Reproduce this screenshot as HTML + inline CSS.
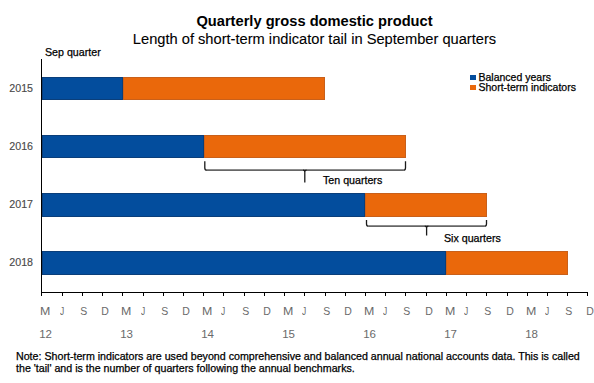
<!DOCTYPE html>
<html><head><meta charset="utf-8"><style>
html,body{margin:0;padding:0;background:#fff;}
body{width:594px;height:383px;position:relative;overflow:hidden;font-family:"Liberation Sans",sans-serif;color:#000;}
.t{position:absolute;white-space:nowrap;line-height:1;-webkit-text-stroke:0.25px #000;}
svg{position:absolute;left:0;top:0;}
.al,.yl{position:absolute;white-space:nowrap;font-size:10.5px;color:#6a6a6a;line-height:1;}
.al{top:306px;}
.yl{top:329px;font-size:11.5px;}
.yr{position:absolute;right:561px;font-size:10.67px;color:#4a4a4a;-webkit-text-stroke:0.15px #4a4a4a;line-height:1;}
.leg{position:absolute;left:478.5px;font-size:10.5px;line-height:1;white-space:nowrap;-webkit-text-stroke:0.25px #000;}
.sq{position:absolute;left:470px;width:6px;height:5px;}
</style></head><body>
<svg width="594" height="383" viewBox="0 0 594 383">
<rect x="42.5" y="77.5" width="80" height="22" fill="#034D9D" stroke="#0A3E7A" stroke-width="1"/>
<rect x="123.5" y="77.5" width="201" height="22" fill="#EA680B" stroke="#C9601A" stroke-width="1"/>
<rect x="42.5" y="135.5" width="161" height="22" fill="#034D9D" stroke="#0A3E7A" stroke-width="1"/>
<rect x="204.5" y="135.5" width="201" height="22" fill="#EA680B" stroke="#C9601A" stroke-width="1"/>
<rect x="42.5" y="193.5" width="322" height="23" fill="#034D9D" stroke="#0A3E7A" stroke-width="1"/>
<rect x="365.5" y="193.5" width="121" height="23" fill="#EA680B" stroke="#C9601A" stroke-width="1"/>
<rect x="42.5" y="251.5" width="403" height="23" fill="#034D9D" stroke="#0A3E7A" stroke-width="1"/>
<rect x="446.5" y="251.5" width="121" height="23" fill="#EA680B" stroke="#C9601A" stroke-width="1"/>
<line x1="41.5" y1="59" x2="41.5" y2="292.5" stroke="#000" stroke-width="1"/>
<line x1="41" y1="292.5" x2="588" y2="292.5" stroke="#000" stroke-width="1"/>
<line x1="41.5" y1="292" x2="41.5" y2="296" stroke="#000" stroke-width="1"/>
<line x1="62.5" y1="292" x2="62.5" y2="296" stroke="#000" stroke-width="1"/>
<line x1="82.5" y1="292" x2="82.5" y2="296" stroke="#000" stroke-width="1"/>
<line x1="102.5" y1="292" x2="102.5" y2="296" stroke="#000" stroke-width="1"/>
<line x1="122.5" y1="292" x2="122.5" y2="296" stroke="#000" stroke-width="1"/>
<line x1="143.5" y1="292" x2="143.5" y2="296" stroke="#000" stroke-width="1"/>
<line x1="163.5" y1="292" x2="163.5" y2="296" stroke="#000" stroke-width="1"/>
<line x1="183.5" y1="292" x2="183.5" y2="296" stroke="#000" stroke-width="1"/>
<line x1="203.5" y1="292" x2="203.5" y2="296" stroke="#000" stroke-width="1"/>
<line x1="223.5" y1="292" x2="223.5" y2="296" stroke="#000" stroke-width="1"/>
<line x1="244.5" y1="292" x2="244.5" y2="296" stroke="#000" stroke-width="1"/>
<line x1="264.5" y1="292" x2="264.5" y2="296" stroke="#000" stroke-width="1"/>
<line x1="284.5" y1="292" x2="284.5" y2="296" stroke="#000" stroke-width="1"/>
<line x1="304.5" y1="292" x2="304.5" y2="296" stroke="#000" stroke-width="1"/>
<line x1="325.5" y1="292" x2="325.5" y2="296" stroke="#000" stroke-width="1"/>
<line x1="345.5" y1="292" x2="345.5" y2="296" stroke="#000" stroke-width="1"/>
<line x1="365.5" y1="292" x2="365.5" y2="296" stroke="#000" stroke-width="1"/>
<line x1="385.5" y1="292" x2="385.5" y2="296" stroke="#000" stroke-width="1"/>
<line x1="405.5" y1="292" x2="405.5" y2="296" stroke="#000" stroke-width="1"/>
<line x1="426.5" y1="292" x2="426.5" y2="296" stroke="#000" stroke-width="1"/>
<line x1="446.5" y1="292" x2="446.5" y2="296" stroke="#000" stroke-width="1"/>
<line x1="466.5" y1="292" x2="466.5" y2="296" stroke="#000" stroke-width="1"/>
<line x1="486.5" y1="292" x2="486.5" y2="296" stroke="#000" stroke-width="1"/>
<line x1="507.5" y1="292" x2="507.5" y2="296" stroke="#000" stroke-width="1"/>
<line x1="527.5" y1="292" x2="527.5" y2="296" stroke="#000" stroke-width="1"/>
<line x1="547.5" y1="292" x2="547.5" y2="296" stroke="#000" stroke-width="1"/>
<line x1="567.5" y1="292" x2="567.5" y2="296" stroke="#000" stroke-width="1"/>
<line x1="587.5" y1="292" x2="587.5" y2="296" stroke="#000" stroke-width="1"/>
<line x1="207.0" y1="170.1" x2="403.3" y2="170.1" stroke="#666" stroke-width="1.6"/>
<path d="M204.8,161.3 L204.8,167.9 Q204.8,170.1 207.0,170.1" fill="none" stroke="#1a1a1a" stroke-width="1.3"/>
<path d="M405.5,161.3 L405.5,167.9 Q405.5,170.1 403.3,170.1" fill="none" stroke="#1a1a1a" stroke-width="1.3"/>
<path d="M303.0,170.1 Q304.8,170.1 304.8,171.9 L304.8,182.5 M304.8,171.9 Q304.8,170.1 306.6,170.1" fill="none" stroke="#1a1a1a" stroke-width="1.3"/>
<line x1="368.7" y1="226.1" x2="484.3" y2="226.1" stroke="#666" stroke-width="1.6"/>
<path d="M366.5,220 L366.5,223.9 Q366.5,226.1 368.7,226.1" fill="none" stroke="#1a1a1a" stroke-width="1.3"/>
<path d="M486.5,220 L486.5,223.9 Q486.5,226.1 484.3,226.1" fill="none" stroke="#1a1a1a" stroke-width="1.3"/>
<path d="M424.8,226.1 Q426.6,226.1 426.6,227.9 L426.6,235.6 M426.6,227.9 Q426.6,226.1 428.40000000000003,226.1" fill="none" stroke="#1a1a1a" stroke-width="1.3"/>
</svg>
<div class="t" style="left:0;width:629px;text-align:center;top:14px;font-size:14.67px;font-weight:bold;-webkit-text-stroke:0;">Quarterly gross domestic product</div>
<div class="t" style="left:0;width:629px;text-align:center;top:32px;font-size:14.67px;-webkit-text-stroke:0.1px #000;">Length of short-term indicator tail in September quarters</div>
<div class="t" style="left:45px;top:47px;font-size:10.67px;">Sep quarter</div>
<div class="yr" style="top:83px">2015</div>
<div class="yr" style="top:141px">2016</div>
<div class="yr" style="top:199px">2017</div>
<div class="yr" style="top:257px">2018</div>
<div class="sq" style="top:75px;background:#034D9D"></div>
<div class="sq" style="top:85px;background:#EA680B"></div>
<div class="leg" style="top:72px">Balanced years</div>
<div class="leg" style="top:82px">Short-term indicators</div>
<div class="t" style="left:323px;top:175px;font-size:10.67px;">Ten quarters</div>
<div class="t" style="left:444px;top:233px;font-size:10.67px;">Six quarters</div>
<div class="al" style="left:40.0px;transform:scaleX(1.18);transform-origin:0 0;">M</div><div class="al" style="left:60.4px;transform:scaleX(0.8);transform-origin:0 0;">J</div><div class="al" style="left:80.2px;">S</div><div class="al" style="left:101.2px;">D</div><div class="al" style="left:121.0px;transform:scaleX(1.18);transform-origin:0 0;">M</div><div class="al" style="left:141.4px;transform:scaleX(0.8);transform-origin:0 0;">J</div><div class="al" style="left:161.2px;">S</div><div class="al" style="left:182.2px;">D</div><div class="al" style="left:202.0px;transform:scaleX(1.18);transform-origin:0 0;">M</div><div class="al" style="left:221.4px;transform:scaleX(0.8);transform-origin:0 0;">J</div><div class="al" style="left:242.2px;">S</div><div class="al" style="left:263.2px;">D</div><div class="al" style="left:283.0px;transform:scaleX(1.18);transform-origin:0 0;">M</div><div class="al" style="left:302.4px;transform:scaleX(0.8);transform-origin:0 0;">J</div><div class="al" style="left:323.2px;">S</div><div class="al" style="left:344.2px;">D</div><div class="al" style="left:364.0px;transform:scaleX(1.18);transform-origin:0 0;">M</div><div class="al" style="left:383.4px;transform:scaleX(0.8);transform-origin:0 0;">J</div><div class="al" style="left:403.2px;">S</div><div class="al" style="left:425.2px;">D</div><div class="al" style="left:445.0px;transform:scaleX(1.18);transform-origin:0 0;">M</div><div class="al" style="left:464.4px;transform:scaleX(0.8);transform-origin:0 0;">J</div><div class="al" style="left:484.2px;">S</div><div class="al" style="left:506.2px;">D</div><div class="al" style="left:526.0px;transform:scaleX(1.18);transform-origin:0 0;">M</div><div class="al" style="left:545.4px;transform:scaleX(0.8);transform-origin:0 0;">J</div><div class="al" style="left:565.2px;">S</div><div class="al" style="left:586.2px;">D</div>
<div class="yl" style="left:39.2px">12</div><div class="yl" style="left:120.2px">13</div><div class="yl" style="left:201.2px">14</div><div class="yl" style="left:282.2px">15</div><div class="yl" style="left:363.2px">16</div><div class="yl" style="left:444.2px">17</div><div class="yl" style="left:525.2px">18</div>
<div class="t" style="left:16px;top:350px;font-size:10.67px;line-height:12px;">Note: Short-term indicators are used beyond comprehensive and balanced annual national accounts data. This is called<br>the 'tail' and is the number of quarters following the annual benchmarks.</div>
</body></html>
